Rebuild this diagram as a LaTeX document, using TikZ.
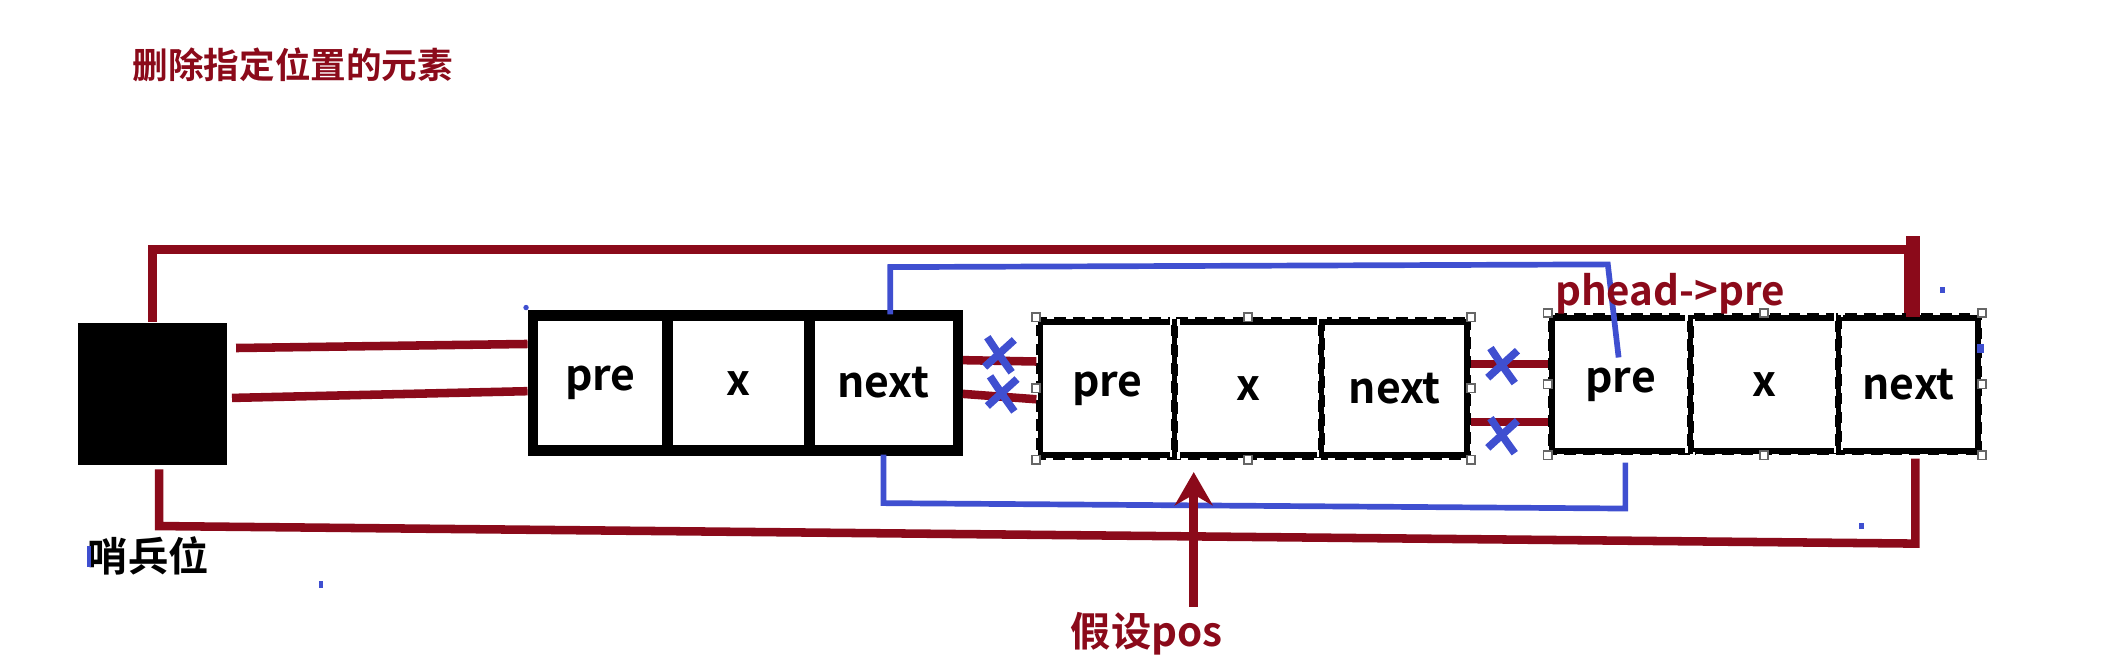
\documentclass[tikz,border=0pt]{standalone}
\usepackage{fontspec}
\newfontfamily\cjk{Noto Sans CJK SC}[BoldFont={Noto Sans CJK SC Bold}]
\usetikzlibrary{arrows.meta}
\definecolor{dred}{HTML}{8B0A1A}
\definecolor{lblue}{HTML}{3F4FD0}
\tikzset{
 cellA/.style={draw=black,line width=2.2pt,minimum height=1.0cm,inner sep=0pt,font=\cjk\bfseries\fontsize{9}{10}\selectfont},
 cellB/.style={draw=black,line width=1.5pt,minimum height=1.0cm,inner sep=0pt,font=\cjk\bfseries\fontsize{9}{10}\selectfont},
 rl/.style={dred,line width=1.8pt},
 bl/.style={lblue,line width=1.2pt},
 handle/.style={draw=black!60,fill=white,line width=0.4pt,minimum size=0.06cm,inner sep=0pt},
 xmark/.style={lblue,line width=1.6pt}
}
\begin{document}
\begin{tikzpicture}[x=0.01cm,y=-0.01cm]
\useasboundingbox (0,0) rectangle (1568,496);
\node[anchor=west,dred,font=\cjk\bfseries\fontsize{7.5}{9}\selectfont] (title) at (86,48) {删除指定位置的元素};
% sentinel
\node[fill=black,minimum width=1.1cm,minimum height=1.05cm,inner sep=0pt] (s) at (113,292) {};
\node[font=\cjk\bfseries\fontsize{8.5}{10}\selectfont] (sl) at (110,412) {哨兵位};
% node 1
\node[cellA,minimum width=1.0cm] (a1) at (445,284) {pre};
\node[cellA,minimum width=1.05cm] (a2) at (547.5,284) {x};
\node[cellA,minimum width=1.1cm] (a3) at (655,284) {next};
% node 2
\node[cellB,minimum width=1.0cm] (b1) at (821,288) {pre};
\node[cellB,minimum width=1.09cm] (b2) at (925.5,288) {x};
\node[cellB,minimum width=1.08cm] (b3) at (1034,288) {next};
% node 3
\node[cellB,minimum width=1.03cm] (c1) at (1201.5,285) {pre};
\node[cellB,minimum width=1.1cm] (c2) at (1308,285) {x};
\node[cellB,minimum width=1.04cm] (c3) at (1415,285) {next};
\foreach \n in {b1,b2,b3,c1,c2,c3}{
 \draw[white,line width=0.5pt,dash pattern=on 1.5pt off 2.5pt] (\n.north west) rectangle (\n.south east);}
\foreach \p in {b1.north west,b1.south west,b3.north east,b3.south east,b2.north,b2.south,b1.west,b3.east,
 c1.north west,c1.south west,c3.north east,c3.south east,c2.north,c2.south,c1.west,c3.east}
 \node[handle] at (\p) {};
% red links
\draw[rl] (s.north) -- ++(0,-54) -| (c3.north);
\draw[rl,line width=3pt] (1418,175) -- (1418,235);
\draw[rl] (175,258) -- (a1.west |- 0,255);
\draw[rl] (172,295) -- (a1.west |- 0,290);
\draw[rl] (118,348) -- (118,390) -- (1420,403) -- (1420,340);
\draw[rl] (a3.east |- 0,267) -- (b1.west |- 0,268);
\draw[rl] (a3.east |- 0,292) -- (b1.west |- 0,296);
\draw[rl] (b3.east |- 0,270) -- (c1.west |- 0,270);
\draw[rl] (b3.east |- 0,313) -- (c1.west |- 0,313);
% blue X marks
\foreach \cx/\cy in {740/262,742/291,1113/270,1113/322}{
 \draw[xmark] (\cx-8,\cy-12) .. controls (\cx,\cy) .. (\cx+10,\cy+14);
 \draw[xmark] (\cx+12,\cy-10) -- (\cx-10,\cy+10);
}
% blue links
\draw[bl] (660,233) -- (660,198) -- (1192,196) -- (1200,265);
\draw[bl] (655,337) -- (655,373) -- (1205,377) -- (1205,343);
% pos arrow
\node[dred,font=\cjk\bfseries\fontsize{8.5}{10}\selectfont] (pos) at (850,470) {假设pos};
\draw[dred,line width=1.8pt,-{Stealth[length=7pt,width=8pt]}] (885,450) -- (885,350);
\node[dred,font=\cjk\bfseries\fontsize{8.5}{10}\selectfont] (ph) at (1238,218) {phead->pre};
% stray marks
\fill[lblue] (390,228) circle (2);
\draw[lblue,line width=1pt] (238,431) -- (238,436);
\draw[lblue,line width=1pt] (1380,388) -- (1380,392);
\draw[lblue,line width=1pt] (1440,213) -- (1440,217);
\draw[lblue,line width=1.5pt] (1468,255) -- (1468,262);
\draw[lblue,line width=1pt] (66,405) -- (66,420);
\end{tikzpicture}
\end{document}
